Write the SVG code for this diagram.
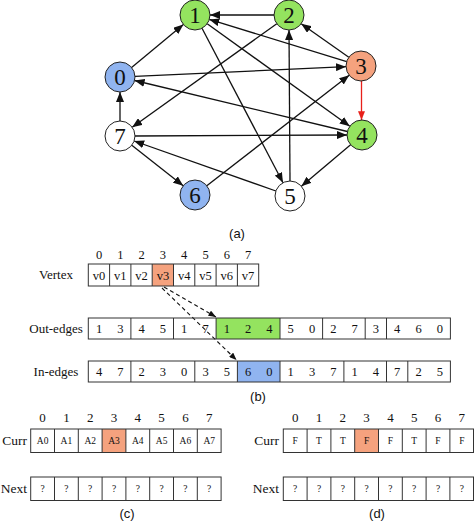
<svg xmlns="http://www.w3.org/2000/svg" width="474" height="522" viewBox="0 0 474 522">
<defs>
<marker id="ah" viewBox="0 0 10 8" refX="10" refY="4" markerWidth="10" markerHeight="8" markerUnits="userSpaceOnUse" orient="auto"><path d="M0,0 L10,4 L0,8 Z" fill="#111"/></marker>
<marker id="ahr" viewBox="0 0 10 8" refX="10" refY="4" markerWidth="9" markerHeight="7" markerUnits="userSpaceOnUse" orient="auto"><path d="M0,0 L10,4 L0,8 Z" fill="#e8201a"/></marker>
<marker id="ahs" viewBox="0 0 10 8" refX="10" refY="4" markerWidth="8" markerHeight="6" markerUnits="userSpaceOnUse" orient="auto"><path d="M0,0 L10,4 L0,8 Z" fill="#111"/></marker>
</defs>
<style>
.n{stroke:#222;stroke-width:1}
.g{fill:#94e35f}.b{fill:#90b4f0}.o{fill:#f5a27e}.w{fill:#fff}
.nt{font-family:"Liberation Serif",serif;font-size:23px;text-anchor:middle;fill:#111}
.e{stroke:#111;stroke-width:1.3;fill:none;marker-end:url(#ah)}
.er{stroke:#e8201a;stroke-width:1.3;fill:none;marker-end:url(#ahr)}
.d{stroke:#111;stroke-width:1.1;stroke-dasharray:4,3;fill:none;marker-end:url(#ahs)}
.c{stroke:#333;stroke-width:1}
.t{font-family:"Liberation Serif",serif;font-size:12.5px;text-anchor:middle;fill:#111}
.s{font-family:"Liberation Serif",serif;font-size:9.5px;text-anchor:middle;fill:#111}
.l{font-family:"Liberation Serif",serif;font-size:13px;text-anchor:middle;fill:#111}
.le{font-family:"Liberation Serif",serif;font-size:13.5px;text-anchor:end;fill:#111}
.cap{font-family:"Liberation Sans",Arial,sans-serif;font-size:13px;text-anchor:middle;fill:#111}
</style>
<rect width="474" height="522" fill="#fff"/>
<g id="connectors">
<line class="e" x1="131.6" y1="67.4" x2="183.4" y2="24.6"/>
<line class="e" x1="135" y1="76.3" x2="346" y2="66.7"/>
<line class="e" x1="207.2" y1="23.8" x2="349.8" y2="126.2"/>
<line class="e" x1="202" y1="28.3" x2="283" y2="182.7"/>
<line class="e" x1="274" y1="15" x2="210" y2="15"/>
<line class="e" x1="276.8" y1="23.7" x2="132.2" y2="127.3"/>
<line class="e" x1="346.7" y1="61.6" x2="209.3" y2="19.4"/>
<line class="e" x1="348.8" y1="57.3" x2="301.2" y2="23.7"/>
<line class="er" x1="361.5" y1="81" x2="361.5" y2="120"/>
<line class="e" x1="350.6" y1="144.7" x2="301.4" y2="186.3"/>
<line class="e" x1="347.4" y1="131.5" x2="134.6" y2="80.5"/>
<line class="e" x1="290" y1="181" x2="289" y2="30"/>
<line class="e" x1="275.9" y1="191" x2="134.1" y2="141"/>
<line class="e" x1="206.8" y1="185.8" x2="349.2" y2="75.2"/>
<line class="e" x1="135" y1="136" x2="347" y2="135"/>
<line class="e" x1="131.8" y1="145.3" x2="183.2" y2="185.7"/>
<line class="e" x1="120" y1="121" x2="120" y2="92"/>
<line class="d" x1="164" y1="287" x2="216" y2="317"/>
<line class="d" x1="162" y1="288" x2="236.5" y2="360"/>
</g>
<g id="node0"><circle class="n b" cx="120" cy="77" r="15"/><text class="nt" x="120" y="85">0</text></g>
<g id="node1"><circle class="n g" cx="195" cy="15" r="15"/><text class="nt" x="195" y="23">1</text></g>
<g id="node2"><circle class="n g" cx="289" cy="15" r="15"/><text class="nt" x="289" y="23">2</text></g>
<g id="node3"><circle class="n o" cx="361" cy="66" r="15"/><text class="nt" x="361" y="74">3</text></g>
<g id="node4"><circle class="n g" cx="362" cy="135" r="15"/><text class="nt" x="362" y="143">4</text></g>
<g id="node5"><circle class="n w" cx="290" cy="196" r="15"/><text class="nt" x="290" y="204">5</text></g>
<g id="node6"><circle class="n b" cx="195" cy="195" r="15"/><text class="nt" x="195" y="203">6</text></g>
<g id="node7"><circle class="n w" cx="120" cy="136" r="15"/><text class="nt" x="120" y="144">7</text></g>
<text class="cap" x="237" y="238">(a)</text>
<g id="vertex-table">
<text class="l" x="56" y="279">Vertex</text>
<g class="t">
<text x="99" y="258.5">0</text><text x="120.3" y="258.5">1</text><text x="141.6" y="258.5">2</text><text x="162.9" y="258.5">3</text><text x="184.2" y="258.5">4</text><text x="205.5" y="258.5">5</text><text x="226.8" y="258.5">6</text><text x="248.1" y="258.5">7</text>
</g>
<rect x="152.3" y="264" width="21.3" height="22" class="o"/>
<rect x="88.3" y="264" width="170.4" height="22" fill="none" class="c"/>
<path class="c" d="M109.6,264V286M130.9,264V286M152.2,264V286M173.5,264V286M194.8,264V286M216.1,264V286M237.4,264V286"/>
<g class="t">
<text x="99" y="279.5">v0</text><text x="120.3" y="279.5">v1</text><text x="141.6" y="279.5">v2</text><text x="162.9" y="279.5">v3</text><text x="184.2" y="279.5">v4</text><text x="205.5" y="279.5">v5</text><text x="226.8" y="279.5">v6</text><text x="248.1" y="279.5">v7</text>
</g>
</g>
<g id="out-edges">
<text class="l" x="56" y="333">Out-edges</text>
<rect x="216.1" y="318" width="63.9" height="21" class="g"/>
<rect x="88.3" y="318" width="362.1" height="21" fill="none" class="c"/>
<path class="c" d="M130.9,318V339M173.5,318V339M216.1,318V339M280,318V339M322.6,318V339M365.2,318V339M386.5,318V339"/>
<g class="t">
<text x="99" y="333">1</text><text x="120.3" y="333">3</text><text x="141.6" y="333">4</text><text x="162.9" y="333">5</text><text x="184.2" y="333">1</text><text x="205.5" y="333">7</text><text x="226.8" y="333">1</text><text x="248.1" y="333">2</text><text x="269.4" y="333">4</text><text x="290.7" y="333">5</text><text x="312" y="333">0</text><text x="333.3" y="333">2</text><text x="354.6" y="333">7</text><text x="375.9" y="333">3</text><text x="397.2" y="333">4</text><text x="418.5" y="333">6</text><text x="439.8" y="333">0</text>
</g>
</g>
<g id="in-edges">
<text class="l" x="56" y="376">In-edges</text>
<rect x="237.4" y="361" width="42.6" height="21" class="b"/>
<rect x="88.3" y="361" width="362.1" height="21" fill="none" class="c"/>
<path class="c" d="M130.9,361V382M194.8,361V382M237.4,361V382M280,361V382M343.9,361V382M386.5,361V382M407.8,361V382"/>
<g class="t">
<text x="99" y="376">4</text><text x="120.3" y="376">7</text><text x="141.6" y="376">2</text><text x="162.9" y="376">3</text><text x="184.2" y="376">0</text><text x="205.5" y="376">3</text><text x="226.8" y="376">5</text><text x="248.1" y="376">6</text><text x="269.4" y="376">0</text><text x="290.7" y="376">1</text><text x="312" y="376">3</text><text x="333.3" y="376">7</text><text x="354.6" y="376">1</text><text x="375.9" y="376">4</text><text x="397.2" y="376">7</text><text x="418.5" y="376">2</text><text x="439.8" y="376">5</text>
</g>
</g>
<text class="cap" x="258" y="401">(b)</text>
<g id="table-c">
<g class="l">
<text x="42.6" y="422">0</text><text x="66.4" y="422">1</text><text x="90.2" y="422">2</text><text x="114" y="422">3</text><text x="137.8" y="422">4</text><text x="161.6" y="422">5</text><text x="185.4" y="422">6</text><text x="209.2" y="422">7</text>
</g>
<text class="le" x="27" y="445">Curr</text>
<text class="le" x="27" y="493">Next</text>
<rect x="102.1" y="429" width="23.8" height="23.5" class="o"/>
<rect x="30.7" y="429" width="190.4" height="23.5" fill="none" class="c"/>
<path class="c" d="M54.5,429V452.5M78.3,429V452.5M102.1,429V452.5M125.9,429V452.5M149.7,429V452.5M173.5,429V452.5M197.3,429V452.5"/>
<rect x="30.7" y="477" width="190.4" height="23.5" fill="none" class="c"/>
<path class="c" d="M54.5,477V500.5M78.3,477V500.5M102.1,477V500.5M125.9,477V500.5M149.7,477V500.5M173.5,477V500.5M197.3,477V500.5"/>
<g class="s">
<text x="42.6" y="444">A0</text><text x="66.4" y="444">A1</text><text x="90.2" y="444">A2</text><text x="114" y="444">A3</text><text x="137.8" y="444">A4</text><text x="161.6" y="444">A5</text><text x="185.4" y="444">A6</text><text x="209.2" y="444">A7</text>
<text x="42.6" y="492">?</text><text x="66.4" y="492">?</text><text x="90.2" y="492">?</text><text x="114" y="492">?</text><text x="137.8" y="492">?</text><text x="161.6" y="492">?</text><text x="185.4" y="492">?</text><text x="209.2" y="492">?</text>
</g>
</g>
<text class="cap" x="127" y="518">(c)</text>
<g id="table-d">
<g class="l">
<text x="295.2" y="422">0</text><text x="319" y="422">1</text><text x="342.8" y="422">2</text><text x="366.6" y="422">3</text><text x="390.4" y="422">4</text><text x="414.2" y="422">5</text><text x="438" y="422">6</text><text x="461.8" y="422">7</text>
</g>
<text class="le" x="279" y="445">Curr</text>
<text class="le" x="279" y="493">Next</text>
<rect x="354.7" y="429" width="23.8" height="23.5" class="o"/>
<rect x="283.3" y="429" width="190.2" height="23.5" fill="none" class="c"/>
<path class="c" d="M307.1,429V452.5M330.9,429V452.5M354.7,429V452.5M378.5,429V452.5M402.3,429V452.5M426.1,429V452.5M449.9,429V452.5"/>
<rect x="283.3" y="477" width="190.2" height="23.5" fill="none" class="c"/>
<path class="c" d="M307.1,477V500.5M330.9,477V500.5M354.7,477V500.5M378.5,477V500.5M402.3,477V500.5M426.1,477V500.5M449.9,477V500.5"/>
<g class="s">
<text x="295.2" y="444">F</text><text x="319" y="444">T</text><text x="342.8" y="444">T</text><text x="366.6" y="444">F</text><text x="390.4" y="444">F</text><text x="414.2" y="444">T</text><text x="438" y="444">F</text><text x="461.8" y="444">F</text>
<text x="295.2" y="492">?</text><text x="319" y="492">?</text><text x="342.8" y="492">?</text><text x="366.6" y="492">?</text><text x="390.4" y="492">?</text><text x="414.2" y="492">?</text><text x="438" y="492">?</text><text x="461.8" y="492">?</text>
</g>
</g>
<text class="cap" x="377" y="518">(d)</text>
</svg>
